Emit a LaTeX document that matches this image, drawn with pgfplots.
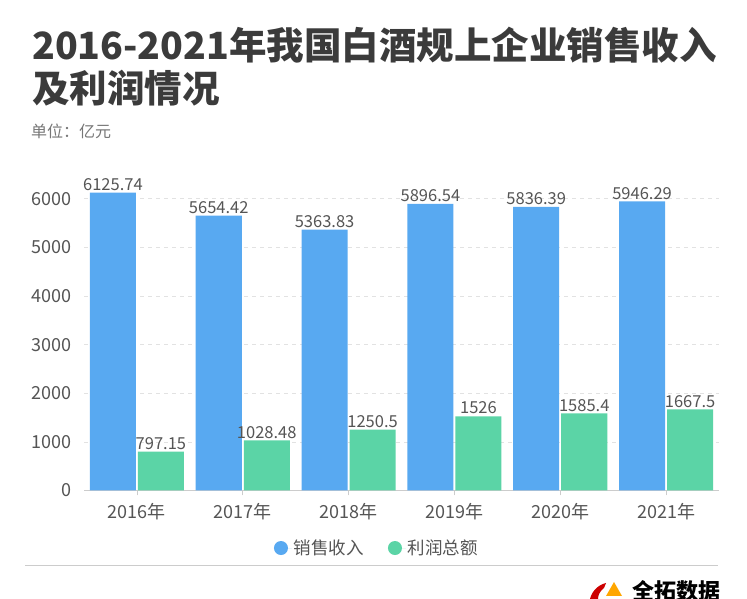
\documentclass[border=0pt]{standalone}
\usepackage{pgfplots}
\usepackage{pgfplotstable}
\pgfplotsset{compat=1.18}
\usepackage{fontspec}
\setmainfont{Noto Sans CJK SC}

\definecolor{barblue}{HTML}{58A9F1}
\definecolor{bargreen}{HTML}{5BD4A6}
\definecolor{titlegray}{HTML}{3B3B3B}
\definecolor{labelgray}{HTML}{555555}
\definecolor{subgray}{HTML}{777777}
\definecolor{gridgray}{HTML}{E2E2E2}
\definecolor{axisgray}{HTML}{CCCCCC}

% 销售收入 (亿元)
\pgfplotstableread{
x y label
0 6125.74 6125.74
1 5654.42 5654.42
2 5363.83 5363.83
3 5896.54 5896.54
4 5836.39 5836.39
5 5946.29 5946.29
}\salestable

% 利润总额 (亿元)
\pgfplotstableread{
x y label
0 797.15 797.15
1 1028.48 1028.48
2 1250.5 1250.5
3 1526 1526
4 1585.4 1585.4
5 1667.5 1667.5
}\profittable

\begin{document}
\begin{tikzpicture}
\useasboundingbox (0,0) rectangle (747pt,599pt);
\fill[white] (0,0) rectangle (747pt,599pt);

% title block
\node[anchor=base west, inner sep=0, text=titlegray, font=\fontsize{37.5}{40}\selectfont\bfseries]
  at (32pt,539pt) {2016-2021年我国白酒规上企业销售收入};
\node[anchor=base west, inner sep=0, text=titlegray, font=\fontsize{37.5}{40}\selectfont\bfseries]
  at (32pt,496pt) {及利润情况};
\node[anchor=base west, inner sep=0, text=subgray, font=\fontsize{16}{18}\selectfont]
  at (31pt,461pt) {单位：亿元};

\begin{axis}[
  at={(84pt,108.5pt)}, anchor=south west,
  scale only axis, width=635pt, height=316pt,
  xmin=-0.5, xmax=5.5, ymin=0, ymax=6500,
  ybar,
  xtick={0,...,5},
  xticklabels={2016年,2017年,2018年,2019年,2020年,2021年},
  ytick={0,1000,...,6000},
  axis x line*=bottom, axis y line*=left,
  x axis line style={draw=axisgray, line width=0.8pt, -},
  y axis line style={draw=none},
  xtick style={draw=axisgray, line width=0.8pt},
  ytick style={draw=none},
  major tick length=5pt,
  tick align=outside,
  ymajorgrids,
  grid style={gridgray, dash pattern=on 4pt off 4pt, line width=0.7pt},
  /pgf/number format/assume math mode=true,
  xticklabel style={text=labelgray, font=\fontsize{18}{20}\selectfont, yshift=-4pt},
  yticklabel style={text=labelgray, font=\fontsize{18}{20}\selectfont, anchor=east, inner sep=0pt, xshift=-7pt},
  yticklabel={\pgfmathprintnumber[fixed, precision=0, 1000 sep={}]{\tick}},
  point meta=explicit symbolic,
  nodes near coords={\pgfplotspointmeta},
  every node near coord/.append style={text=labelgray, font=\fontsize{16.5}{18}\selectfont, inner sep=2pt},
  legend columns=2,
  legend style={at={(0.4614,-0.182)}, anchor=center, draw=none, fill=none,
    font=\fontsize{17.5}{19}\selectfont, text=labelgray,
    /tikz/every even column/.append style={column sep=22pt}},
  legend cell align=left,
  clip=false,
]
\addplot[draw=none, fill=barblue, bar width=46pt, bar shift=-24pt,
  legend image code/.code={\fill[barblue] (7pt,0pt) circle (7pt); \path (0pt,0pt) -- (18pt,0pt);}]
  table[x=x, y=y, meta=label] {\salestable};
\addlegendentry{销售收入}
\addplot[draw=none, fill=bargreen, bar width=46pt, bar shift=24pt,
  legend image code/.code={\fill[bargreen] (7pt,0pt) circle (7pt); \path (0pt,0pt) -- (18pt,0pt);}]
  table[x=x, y=y, meta=label] {\profittable};
\addlegendentry{利润总额}
\end{axis}

% footer rule and brand mark
\draw[axisgray, line width=0.8pt] (25pt,34pt) -- (718pt,34pt);
\fill[red!80!black] (590pt,0pt) .. controls (592pt,8pt) and (598pt,14pt) .. (606pt,16pt)
  -- (604pt,11pt) .. controls (600pt,8pt) and (598pt,4pt) .. (598pt,0pt) -- cycle;
\fill[orange!70!yellow] (606pt,3pt) -- (614pt,17pt) -- (622pt,3pt) -- cycle;
\node[anchor=north west, inner sep=0, text=black, font=\fontsize{22}{24}\selectfont\bfseries]
  at (632pt,19pt) {全拓数据};
\end{tikzpicture}
\end{document}
